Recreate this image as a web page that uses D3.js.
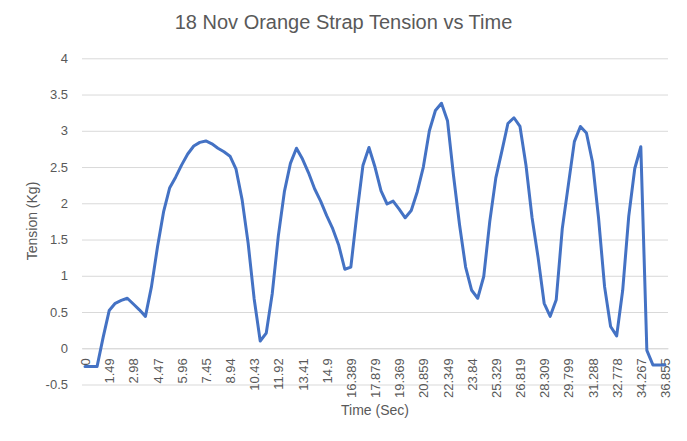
<!DOCTYPE html>
<html>
<head>
<meta charset="utf-8">
<script src="https://cdnjs.cloudflare.com/ajax/libs/d3/7.8.5/d3.min.js"></script>
<style>
    body { margin: 0; background: white; }
    svg text { font-family: "Liberation Sans", Arial, sans-serif; fill: #595959; }
</style>
</head>
<body>
<svg id="svg"></svg>
<script>
    // - sample times (sec), one per category
    var times = [
        0, 0.372, 0.745, 1.117, 1.49, 1.862, 2.235, 2.607, 2.98,
        3.352, 3.725, 4.097, 4.47, 4.842, 5.215, 5.587, 5.96,
        6.332, 6.705, 7.077, 7.45, 7.822, 8.195, 8.567, 8.94,
        9.312, 9.685, 10.057, 10.43, 10.802, 11.175, 11.547, 11.92,
        12.292, 12.665, 13.037, 13.41, 13.782, 14.155, 14.527, 14.9,
        15.272, 15.644, 16.017, 16.389, 16.761, 17.134, 17.506, 17.879,
        18.251, 18.624, 18.996, 19.369, 19.741, 20.114, 20.486, 20.859,
        21.231, 21.604, 21.976, 22.349, 22.722, 23.094, 23.467, 23.84,
        24.212, 24.584, 24.957, 25.329, 25.701, 26.074, 26.446, 26.819,
        27.191, 27.564, 27.936, 28.309, 28.681, 29.054, 29.426, 29.799,
        30.171, 30.543, 30.916, 31.288, 31.66, 32.033, 32.405, 32.778,
        33.15, 33.522, 33.895, 34.267, 34.639, 35.011, 35.383, 36.855
    ];

    // - tension (kg)
    var tension = [
        -0.25, -0.25, -0.25, 0.15, 0.52, 0.62, 0.66, 0.69, 0.61,
        0.53, 0.44, 0.85, 1.40, 1.88, 2.21, 2.36, 2.53,
        2.68, 2.79, 2.84, 2.86, 2.82, 2.76, 2.71, 2.65,
        2.47, 2.05, 1.45, 0.68, 0.10, 0.21, 0.76, 1.55,
        2.16, 2.55, 2.76, 2.61, 2.42, 2.20, 2.03, 1.83,
        1.65, 1.42, 1.09, 1.12, 1.85, 2.52, 2.77, 2.50,
        2.17, 1.99, 2.03, 1.92, 1.80, 1.90, 2.16, 2.50,
        3.00, 3.28, 3.38, 3.14, 2.38, 1.70, 1.12, 0.80,
        0.69, 0.99, 1.75, 2.35, 2.72, 3.10, 3.18, 3.06,
        2.52, 1.80, 1.25, 0.62, 0.44, 0.67, 1.65, 2.25,
        2.85, 3.06, 2.97, 2.57, 1.80, 0.85, 0.30, 0.17,
        0.80, 1.82, 2.48, 2.78, -0.03, -0.23, -0.23, -0.23
    ];

    var xLabels = [0, 1.49, 2.98, 4.47, 5.96, 7.45, 8.94, 10.43, 11.92, 13.41, 14.9,
        16.389, 17.879, 19.369, 20.859, 22.349, 23.84, 25.329, 26.819, 28.309,
        29.799, 31.288, 32.778, 34.267, 36.855];
    var yTicks = [-0.5, 0, 0.5, 1, 1.5, 2, 2.5, 3, 3.5, 4];

    var W = 687, H = 441;
    var svg = d3.select("svg#svg")
        .attr("width", W)
        .attr("height", H);

    // plot area edges (px)
    var plotLeft = 82, plotRight = 668, plotTop = 58.3, plotBottom = 384.5;

    var x = d3.scalePoint().domain(times).range([plotLeft, plotRight]).padding(0.5);
    var y = d3.scaleLinear().domain([-0.5, 4]).range([plotBottom, plotTop]);

    // - gridlines + y labels
    var yAxis = svg.append("g")
        .attr("transform", "translate(" + plotLeft + ",0)")
        .call(d3.axisLeft(y).tickValues(yTicks).tickSize(-(plotRight - plotLeft)).tickPadding(14)
            .tickFormat(function(d) { return String(d); }));
    yAxis.select(".domain").remove();
    yAxis.selectAll("line").attr("stroke", "#d9d9d9").attr("stroke-width", 1);
    yAxis.selectAll("text").style("font-size", "13px").style("fill", "#595959");

    // - category axis crosses at 0
    var xAxis = svg.append("g")
        .attr("transform", "translate(0," + y(0) + ")")
        .call(d3.axisBottom(x).tickValues(xLabels).tickSize(0).tickSizeOuter(0)
            .tickFormat(function(d) { return String(d); }));
    xAxis.select(".domain").attr("stroke", "#d9d9d9");
    xAxis.selectAll("text")
        .attr("transform", "rotate(-90)")
        .attr("x", -10)
        .attr("y", 0)
        .attr("dy", "0.35em")
        .style("text-anchor", "end")
        .style("font-size", "13px")
        .style("fill", "#595959");

    // - the line
    var data = times.map(function(t, i) { return { t: t, v: tension[i] }; });
    var line = d3.line()
        .x(function(d) { return x(d.t); })
        .y(function(d) { return y(d.v); });
    svg.append("path")
        .datum(data)
        .attr("d", line)
        .attr("fill", "none")
        .attr("stroke", "#4472C4")
        .attr("stroke-width", 3)
        .attr("stroke-linejoin", "round")
        .attr("stroke-linecap", "round");

    // - titles
    svg.append("text")
        .attr("x", W / 2)
        .attr("y", 29)
        .style("text-anchor", "middle")
        .style("font-size", "20px")
        .text("18 Nov Orange Strap Tension vs Time");

    svg.append("text")
        .attr("x", (plotLeft + plotRight) / 2)
        .attr("y", 415)
        .style("text-anchor", "middle")
        .style("font-size", "14px")
        .text("Time (Sec)");

    svg.append("text")
        .attr("transform", "translate(32," + 221 + ") rotate(-90)")
        .attr("dy", "0.35em")
        .style("text-anchor", "middle")
        .style("font-size", "14px")
        .text("Tension (Kg)");
</script>
</body>
</html>
